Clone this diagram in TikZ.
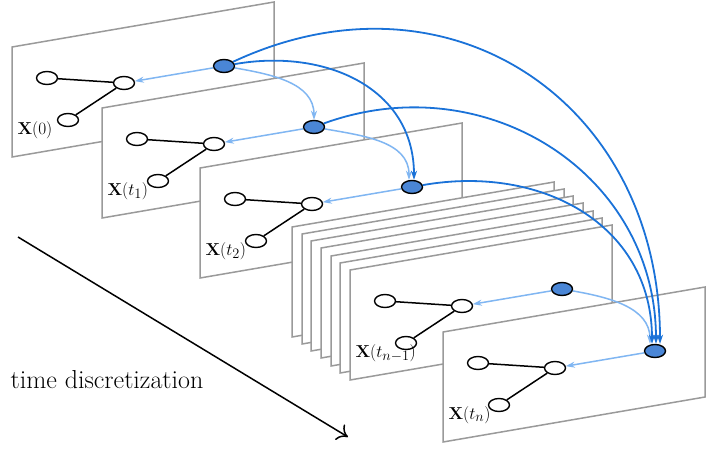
\documentclass[tikz,border=0pt]{standalone}
\usetikzlibrary{arrows.meta,calc,shapes.geometric}
\definecolor{dblue}{HTML}{1A72D8}
\definecolor{lblue}{HTML}{80B6F2}
\definecolor{nfill}{HTML}{4A86D6}
\definecolor{pgray}{HTML}{9A9A9A}
\begin{document}
\begin{tikzpicture}[x=1pt,y=-1pt,
  plane/.style={draw=pgray,line width=1.5pt,fill=white},
  gn/.style={draw,ellipse,line width=1.4pt,minimum width=21pt,minimum height=13pt,inner sep=0pt,fill=white},
  bn/.style={gn,fill=nfill},
  edge/.style={line width=1.5pt},
  dark/.style={draw=dblue,line width=1.8pt,-{Stealth[length=9pt,width=6pt]}},
  light/.style={draw=lblue,line width=1.5pt,-{Stealth[length=9pt,width=6pt]}},
  lab/.style={font=\fontsize{19}{22}\selectfont,anchor=west}]
\useasboundingbox (0,0) rectangle (711,448);
\newcommand\myframe[2]{\filldraw[plane] (#1,#2) -- ++(0,-110) -- ++(262,-45) -- ++(0,110) -- cycle;}
\newcommand\myplane[4]{%
  \myframe{#2}{#3}
  \node[gn] (#1a) at ($(#2,#3)+(35,-79)$) {};
  \node[gn] (#1c) at ($(#2,#3)+(112,-74)$) {};
  \node[gn] (#1b) at ($(#2,#3)+(56,-37)$) {};
  \node[bn] (#1d) at ($(#2,#3)+(212,-91)$) {};
  \draw[edge] (#1a) -- (#1c); \draw[edge] (#1b) -- (#1c);
  \draw[light] (#1d) -- (#1c);
  \node[lab] (#1l) at ($(#2,#3)+(2,-27)$) {#4};}
\myplane{p0}{12}{157}{$\mathbf{X}(0)$}
\myplane{p1}{102}{218}{$\mathbf{X}(t_1)$}
\myplane{p2}{200}{278}{$\mathbf{X}(t_2)$}
\foreach \x/\y in {292/337,302/344,311/351,321/358,331/366,340/373}{\myframe{\x}{\y}}
\myplane{pm}{350}{380}{$\mathbf{X}(t_{n-1})$}
\myplane{pn}{443}{442}{$\mathbf{X}(t_n)$}
% connectors
\draw[light] (p0d) to[out=-10,in=90] (p1d.north);
\draw[light] (p1d) to[out=-10,in=90] ([xshift=-3pt]p2d.north);
\draw[light] (pmd) to[out=-10,in=90] ([xshift=-5pt]pnd.north);
\draw[dark] (p0d) to[out=10,in=90,looseness=1.1] ([xshift=2pt]p2d.north);
\draw[dark] (p0d) to[out=25,in=90,looseness=1.2] ([xshift=5pt]pnd.north);
\draw[dark] (p1d) to[out=20,in=90,looseness=1.1] ([xshift=1pt]pnd.north);
\draw[dark] (p2d) to[out=10,in=90,looseness=1.1] ([xshift=-3pt]pnd.north);
% time axis
\coordinate (t0) at (18,237);
\coordinate (t1) at (348,437);
\draw[line width=1.5pt,-{To[length=10pt,width=18pt]}] (t0) -- (t1);
\node[font=\fontsize{26}{30}\selectfont] (tl) at (107,380) {time discretization};
\end{tikzpicture}
\end{document}
